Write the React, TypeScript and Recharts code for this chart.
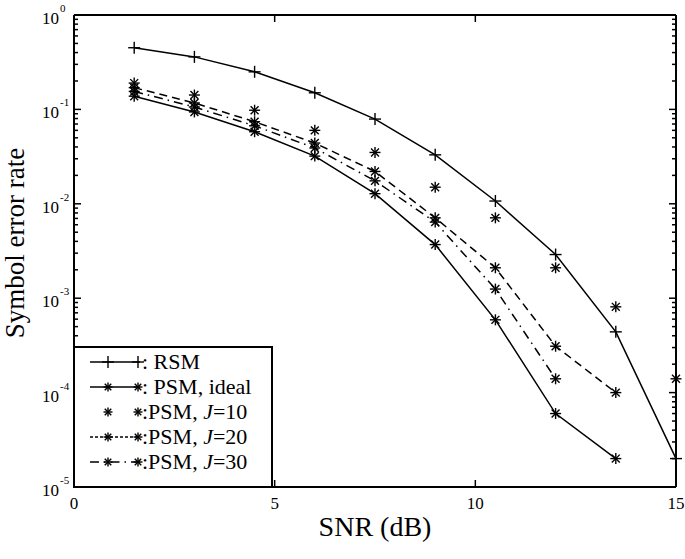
import React from 'react'
import { LineChart, Line, XAxis, YAxis } from 'recharts'

// SNR points (dB)
const snr = [1.5, 3, 4.5, 6, 7.5, 9, 10.5, 12, 13.5, 15]

// symbol error rate per curve
const rsm = [0.45, 0.36, 0.25, 0.15, 0.079, 0.033, 0.0107, 0.0029, 0.00044, 0.00002]
const psmIdeal = [0.138, 0.094, 0.058, 0.032, 0.0128, 0.0037, 0.00059, 0.00006, 0.00002]
const psmJ10 = [0.19, 0.142, 0.098, 0.06, 0.035, 0.015, 0.0071, 0.0021, 0.00081, 0.00014]
const psmJ20 = [0.17, 0.117, 0.074, 0.044, 0.022, 0.0071, 0.0021, 0.00031, 0.0001]
const psmJ30 = [0.155, 0.106, 0.067, 0.039, 0.0175, 0.0064, 0.00125, 0.00014]

const xTicks = [0, 5, 10, 15]
const decades = [-5, -4, -3, -2, -1, 0]

// log ticks incl. minor 2..9
const yTicks: number[] = []
for (const d of decades) {
  yTicks.push(Math.pow(10, d))
  if (d < 0) for (let m = 2; m <= 9; m++) yTicks.push(m * Math.pow(10, d))
}

const data = snr.map((x, i) => ({
  x,
  rsm: rsm[i],
  ideal: psmIdeal[i],
  j10: psmJ10[i],
  j20: psmJ20[i],
  j30: psmJ30[i],
}))

const FONT = '"Liberation Serif", "Times New Roman", serif'
const INK = '#000'

function isMajor(v: number) {
  const l = Math.log10(v)
  return Math.abs(l - Math.round(l)) < 1e-6
}

const LeftTick = (props: any) => {
  const { x, y, payload } = props
  const v = payload.value
  const major = isMajor(v)
  const exp = Math.round(Math.log10(v))
  return (
    <g>
      <line x1={x} x2={x + (major ? 7 : 4)} y1={y} y2={y} stroke={INK} strokeWidth={1.5} />
      {major && (
        <text fontFamily={FONT} fill={INK}>
          <tspan x={x - 15} y={y + 9} fontSize={17} textAnchor="end">10</tspan>
          <tspan x={x - 14} y={y - 3} fontSize={11} textAnchor="start">{exp}</tspan>
        </text>
      )}
    </g>
  )
}

const RightTick = (props: any) => {
  const { x, y, payload } = props
  const major = isMajor(payload.value)
  return <line x1={x} x2={x - (major ? 7 : 4)} y1={y} y2={y} stroke={INK} strokeWidth={1.5} />
}

const BottomTick = (props: any) => {
  const { x, y, payload } = props
  return (
    <g>
      <line x1={x} x2={x} y1={y} y2={y - 7} stroke={INK} strokeWidth={1.5} />
      <text x={x} y={y + 22} fontFamily={FONT} fontSize={17} textAnchor="middle" fill={INK}>
        {payload.value}
      </text>
    </g>
  )
}

const TopTick = (props: any) => {
  const { x, y } = props
  return <line x1={x} x2={x} y1={y} y2={y + 7} stroke={INK} strokeWidth={1.5} />
}

function Plus({ cx, cy, r = 6 }: { cx: number; cy: number; r?: number }) {
  return (
    <g stroke={INK} strokeWidth={1.4}>
      <line x1={cx - r} x2={cx + r} y1={cy} y2={cy} />
      <line x1={cx} x2={cx} y1={cy - r} y2={cy + r} />
    </g>
  )
}

function Star({ cx, cy, r = 5.5 }: { cx: number; cy: number; r?: number }) {
  const d = r * 0.72
  return (
    <g stroke={INK} strokeWidth={1.4}>
      <line x1={cx - r} x2={cx + r} y1={cy} y2={cy} />
      <line x1={cx} x2={cx} y1={cy - r} y2={cy + r} />
      <line x1={cx - d} x2={cx + d} y1={cy - d} y2={cy + d} />
      <line x1={cx - d} x2={cx + d} y1={cy + d} y2={cy - d} />
    </g>
  )
}

const plusDot = (p: any) =>
  p.cy == null || p.value == null ? <g key={p.key} /> : <Plus key={p.key} cx={p.cx} cy={p.cy} />
const starDot = (p: any) =>
  p.cy == null || p.value == null ? <g key={p.key} /> : <Star key={p.key} cx={p.cx} cy={p.cy} />

const legendRows = [
  { label: ': RSM', marker: 'plus', dash: undefined as string | undefined, line: true },
  { label: ': PSM, ideal', marker: 'star', dash: undefined, line: true },
  { label: ':PSM, ', j: '10', marker: 'star', dash: undefined, line: false },
  { label: ':PSM, ', j: '20', marker: 'star', dash: '3 2', line: true },
  { label: ':PSM, ', j: '30', marker: 'star', dash: '9 5 1.5 5', line: true },
]

function LegendBox() {
  const top = 347
  const step = 25
  return (
    <svg width={685} height={559} style={{ position: 'absolute', left: 0, top: 0, pointerEvents: 'none' }}>
      <rect x={74} y={top} width={198} height={487 - top} fill="#fff" stroke={INK} strokeWidth={2} />
      {legendRows.map((r, i) => {
        const y = 362 + i * step
        return (
          <g key={i}>
            {r.line && (
              <line x1={90} x2={140} y1={y} y2={y} stroke={INK} strokeWidth={1.5} strokeDasharray={r.dash} />
            )}
            {r.marker === 'plus' ? (
              <>
                <Plus cx={108} cy={y} />
                <Plus cx={138} cy={y} />
              </>
            ) : (
              <>
                <Star cx={108} cy={y} r={4.5} />
                <Star cx={138} cy={y} r={4.5} />
              </>
            )}
            <text x={142} y={y + 7} fontFamily={FONT} fontSize={22} fill={INK}>
              {r.label}
              {r.j && (
                <>
                  <tspan fontStyle="italic">J</tspan>={r.j}
                </>
              )}
            </text>
          </g>
        )
      })}
    </svg>
  )
}

export default function App() {
  return (
    <div style={{ position: 'absolute', left: 0, top: 0, width: 685, height: 559, background: '#fff' }}>
      <LineChart width={685} height={559} data={data} margin={{ top: 0, right: 8, bottom: 0, left: 0 }}>
        <XAxis
          xAxisId="b"
          dataKey="x"
          type="number"
          domain={[0, 15]}
          ticks={xTicks}
          interval={0}
          height={72}
          tickSize={0}
          tickMargin={0}
          tickLine={false}
          axisLine={{ stroke: INK, strokeWidth: 2 }}
          tick={<BottomTick />}
        />
        <XAxis
          xAxisId="t"
          orientation="top"
          dataKey="x"
          type="number"
          domain={[0, 15]}
          ticks={xTicks}
          interval={0}
          height={15}
          tickSize={0}
          tickMargin={0}
          tickLine={false}
          axisLine={{ stroke: INK, strokeWidth: 2 }}
          tick={<TopTick />}
        />
        <YAxis
          yAxisId="l"
          type="number"
          scale="log"
          domain={[1e-5, 1]}
          allowDataOverflow
          ticks={yTicks}
          interval={0}
          width={74}
          tickSize={0}
          tickMargin={0}
          tickLine={false}
          axisLine={{ stroke: INK, strokeWidth: 2 }}
          tick={<LeftTick />}
        />
        <YAxis
          yAxisId="r"
          orientation="right"
          type="number"
          scale="log"
          domain={[1e-5, 1]}
          allowDataOverflow
          ticks={yTicks}
          interval={0}
          width={1}
          tickSize={0}
          tickMargin={0}
          tickLine={false}
          axisLine={{ stroke: INK, strokeWidth: 2 }}
          tick={<RightTick />}
        />
        <Line xAxisId="b" yAxisId="l" dataKey="rsm" stroke={INK} strokeWidth={1.5} dot={plusDot} isAnimationActive={false} />
        <Line xAxisId="b" yAxisId="l" dataKey="ideal" stroke={INK} strokeWidth={1.5} dot={starDot} isAnimationActive={false} />
        <Line xAxisId="b" yAxisId="l" dataKey="j10" stroke="none" strokeWidth={0} dot={starDot} isAnimationActive={false} />
        <Line xAxisId="b" yAxisId="l" dataKey="j20" stroke={INK} strokeWidth={1.5} strokeDasharray="8 5" dot={starDot} isAnimationActive={false} />
        <Line xAxisId="b" yAxisId="l" dataKey="j30" stroke={INK} strokeWidth={1.5} strokeDasharray="9 5 1.5 5" dot={starDot} isAnimationActive={false} />
        <text x={24} y={243} transform="rotate(-90 24 243)" textAnchor="middle" fontFamily={FONT} fontSize={27} fill={INK}>
          Symbol error rate
        </text>
        <text x={375} y={536} textAnchor="middle" fontFamily={FONT} fontSize={28} fill={INK}>
          SNR (dB)
        </text>
      </LineChart>
      <LegendBox />
    </div>
  )
}
